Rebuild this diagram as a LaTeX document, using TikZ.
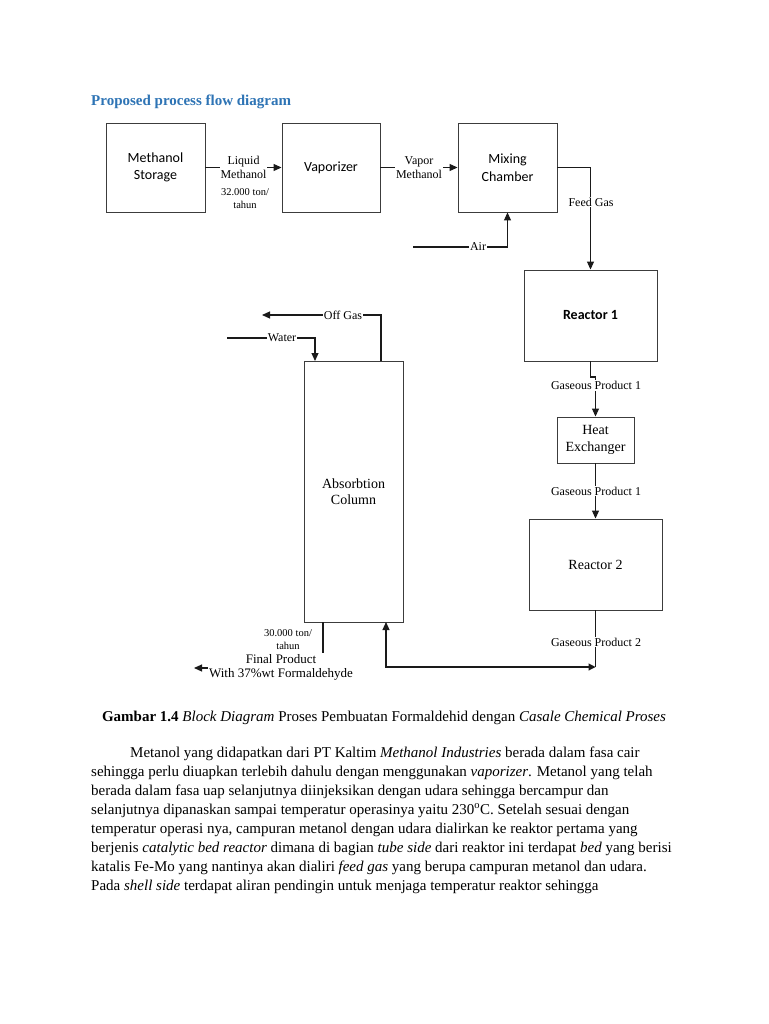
\documentclass[tikz,border=0pt]{standalone}
\usepackage{fontspec}
\setmainfont{Liberation Serif}
\newfontfamily\califont{Carlito}
\usetikzlibrary{arrows.meta}
\definecolor{titleblue}{HTML}{2E74B5}
\definecolor{ink}{HTML}{1A1A1A}
\begin{document}
\begin{tikzpicture}[x=1pt,y=-1pt,
  box/.style={draw=ink!85, line width=0.9pt, inner sep=0pt, fill=white, align=center},
  cbox/.style={box, font=\califont\fontsize{14}{17.5}\selectfont},
  sbox/.style={box, font=\fontsize{14}{16.5}\selectfont},
  flow/.style={draw=ink, line width=1.1pt},
  arr/.style={flow, -{Triangle[length=8pt,width=7pt]}},
  lbl/.style={fill=white, inner sep=1pt, align=center, font=\fontsize{12}{14.5}\selectfont},
  small/.style={inner sep=0pt, align=center, font=\fontsize{10.5}{12.5}\selectfont},
  para/.style={anchor=base west, inner sep=0pt, font=\fontsize{15}{18}\selectfont}
]
\useasboundingbox (0,0) rectangle (768,1024);
\fill[white] (0,0) rectangle (768,1024);

% title
\node[anchor=base west, inner sep=0pt, text=titleblue, font=\bfseries\fontsize{15}{18}\selectfont] (title) at (91,106) {Proposed process flow diagram};

% boxes
\node[cbox, minimum width=99pt, minimum height=89pt] (ms) at (155.5,167.5) {Methanol\\Storage};
\node[cbox, minimum width=98pt, minimum height=89pt] (vap) at (331,167.5) {Vaporizer};
\node[cbox, minimum width=99pt, minimum height=89pt] (mix) at (507.5,167.5) {Mixing\\Chamber};
\node[cbox, minimum width=133pt, minimum height=91pt, font=\califont\bfseries\fontsize{14}{17.5}\selectfont] (r1) at (590.5,315.5) {Reactor 1};
\node[sbox, minimum width=77pt, minimum height=46pt] (hx) at (595.5,440) {Heat\\Exchanger};
\node[sbox, minimum width=133pt, minimum height=91pt] (r2) at (595.5,564.5) {Reactor 2};
\node[sbox, minimum width=99pt, minimum height=261pt] (abs) at (353.5,491.5) {Absorbtion\\Column};

% coordinates for free ends
\coordinate (airS) at (413,247);
\coordinate (r1jog) at (590.5,377);
\coordinate (c2) at (595.5,667);
\coordinate (absIn) at (386,622);
\coordinate (ogS) at (381,361);
\coordinate (ogE) at (262,315);
\coordinate (wS) at (227,338);
\coordinate (wE) at (315,361);
\coordinate (fpS) at (323,622);
\coordinate (fpE) at (194,668);

% connectors
\draw[arr] (ms.east) -- (vap.west) node[lbl, midway] (lm) {Liquid\\Methanol};
\node[small] (lmt) at (245,198.5) {32.000 ton/\\tahun};
\draw[arr] (vap.east) -- (mix.west) node[lbl, midway] (vm) {Vapor\\Methanol};
\draw[arr] (mix.east) -| (r1.north);
\node[lbl] (fg) at (591,202) {Feed Gas};
\draw[arr] (airS) -| (mix.south);
\node[lbl] (air) at (478,247) {Air};
\draw[arr] (r1.south) -- (r1jog) -| (hx.north);
\node[lbl] (gp1a) at (596,385.5) {Gaseous Product 1};
\draw[arr] (hx.south) -- (r2.north);
\node[lbl] (gp1b) at (596,491) {Gaseous Product 1};
\draw[flow] (r2.south) -- (c2);
\draw[flow, {Triangle[length=7pt,width=7pt]}-{Triangle[length=8pt,width=7pt]}] (c2) -| (absIn);
\node[lbl] (gp2) at (596,642) {Gaseous Product 2};
\draw[arr] (ogS) |- (ogE);
\node[lbl] (og) at (343,315) {Off Gas};
\draw[arr] (wS) -| (wE);
\node[lbl] (wat) at (282,338) {Water};
\draw[arr] (fpS) |- (fpE);
\node[small] (fpt) at (288,639.5) {30.000 ton/\\tahun};
\node[lbl, font=\fontsize{13}{14.5}\selectfont, inner sep=1.5pt] (fp) at (281,667.5) {Final Product\\With 37\%wt Formaldehyde};

% caption
\node[anchor=base, inner sep=0pt, font=\fontsize{15}{18}\selectfont] (cap) at (384,721.5) {\textbf{Gambar 1.4} \textit{Block Diagram} Proses Pembuatan Formaldehid dengan \textit{Casale Chemical Proses}};

% paragraph
\node[para] (p1) at (130,757) {Metanol yang didapatkan dari PT Kaltim \textit{Methanol Industries} berada dalam fasa cair};
\node[para] (p2) at (91,776) {sehingga perlu diuapkan terlebih dahulu dengan menggunakan \textit{vaporizer}. Metanol yang telah};
\node[para] (p3) at (91,795) {berada dalam fasa uap selanjutnya diinjeksikan dengan udara sehingga bercampur dan};
\node[para] (p4) at (91,814) {selanjutnya dipanaskan sampai temperatur operasinya yaitu 230\textsuperscript{o}C. Setelah sesuai dengan};
\node[para] (p5) at (91,833) {temperatur operasi nya, campuran metanol dengan udara dialirkan ke reaktor pertama yang};
\node[para] (p6) at (91,852) {berjenis \textit{catalytic bed reactor} dimana di bagian \textit{tube side} dari reaktor ini terdapat \textit{bed} yang berisi};
\node[para] (p7) at (91,871) {katalis Fe-Mo yang nantinya akan dialiri \textit{feed gas} yang berupa campuran metanol dan udara.};
\node[para] (p8) at (91,890) {Pada \textit{shell side} terdapat aliran pendingin untuk menjaga temperatur reaktor sehingga};
\end{tikzpicture}
\end{document}
